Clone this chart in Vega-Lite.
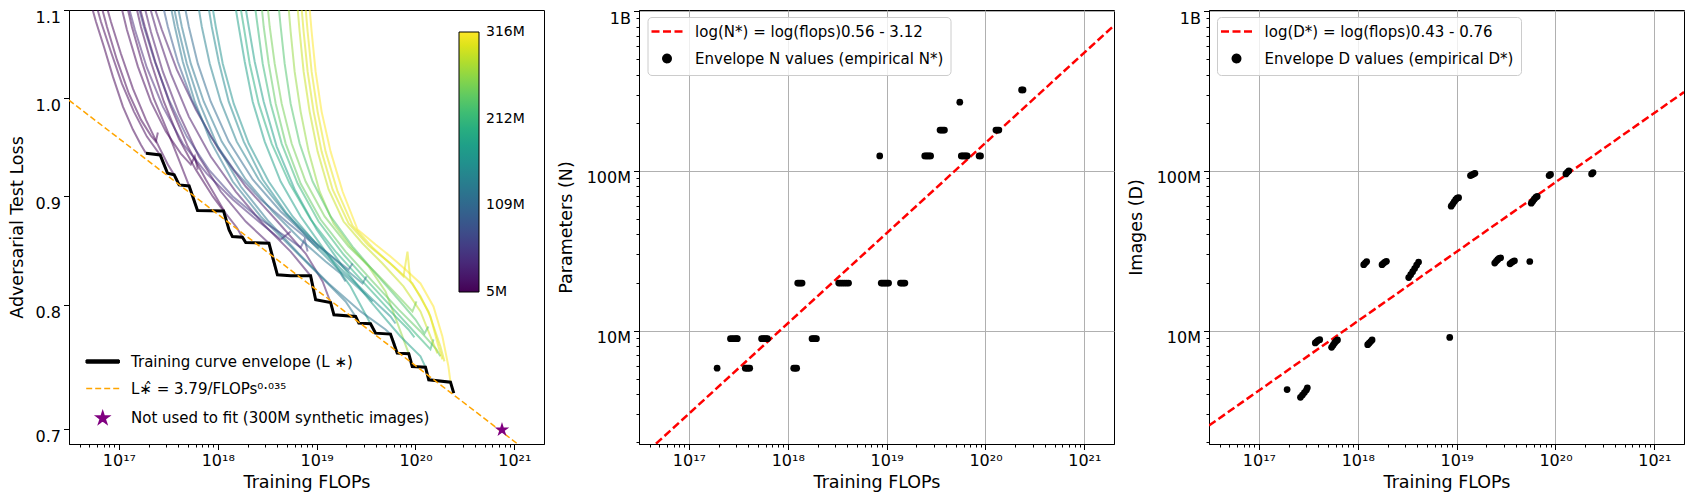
{
"$schema": "https://vega.github.io/schema/vega-lite/v6.json",
"background": "white",
"padding": {"left": 8, "top": 8, "right": 5, "bottom": 5},
"config": {
  "font": "DejaVu Sans",
  "view": {"stroke": "black", "strokeWidth": 1},
  "axis": {"labelFontSize": 16, "titleFontSize": 17.5, "titleFontWeight": "normal", "domainColor": "black", "tickColor": "black", "labelColor": "black", "titleColor": "black", "labelFlush": false, "labelOverlap": false, "labelPadding": 3, "tickWidth": 1, "domainWidth": 1},
  "legend": {"labelColor": "black", "labelFont": "DejaVu Sans"}
},
"datasets": {
  "curves": [
    {"run":1,"N":6,"flops":4.98e16,"loss":1.1158},{"run":1,"N":6,"flops":5.86e16,"loss":1.0862},{"run":1,"N":6,"flops":7.05e16,"loss":1.0573},{"run":1,"N":6,"flops":8.69e16,"loss":1.0237},{"run":1,"N":6,"flops":1.0975e17,"loss":0.9911},{"run":1,"N":6,"flops":1.385e17,"loss":0.9669},{"run":1,"N":6,"flops":1.668e17,"loss":0.9513},{"run":1,"N":6,"flops":1.875e17,"loss":0.9425},
    {"run":2,"N":9,"flops":5.59e16,"loss":1.1158},{"run":2,"N":9,"flops":6.58e16,"loss":1.0862},{"run":2,"N":9,"flops":8.3e16,"loss":1.0516},{"run":2,"N":9,"flops":1.0723e17,"loss":1.016},{"run":2,"N":9,"flops":1.418e17,"loss":0.9858},{"run":2,"N":9,"flops":1.918e17,"loss":0.9596},{"run":2,"N":9,"flops":2.612e17,"loss":0.9408},{"run":2,"N":9,"flops":2.848e17,"loss":0.9321},{"run":2,"N":9,"flops":3.105e17,"loss":0.9224},
    {"run":3,"N":6,"flops":7.05e16,"loss":1.1158},{"run":3,"N":6,"flops":8.3e16,"loss":1.0862},{"run":3,"N":6,"flops":1.0476e17,"loss":1.0493},{"run":3,"N":6,"flops":1.385e17,"loss":1.0105},{"run":3,"N":6,"flops":1.873e17,"loss":0.9773},{"run":3,"N":6,"flops":2.535e17,"loss":0.9493},{"run":3,"N":6,"flops":3.125e17,"loss":0.9311},{"run":3,"N":6,"flops":3.622e17,"loss":0.9208},{"run":3,"N":6,"flops":3.853e17,"loss":0.9162},{"run":3,"N":6,"flops":4.064e17,"loss":0.9109},
    {"run":4,"N":9,"flops":1.1498e17,"loss":1.1158},{"run":4,"N":9,"flops":1.353e17,"loss":1.0803},{"run":4,"N":9,"flops":1.707e17,"loss":1.0403},{"run":4,"N":9,"flops":2.257e17,"loss":0.9996},{"run":4,"N":9,"flops":3.053e17,"loss":0.9669},{"run":4,"N":9,"flops":4.037e17,"loss":0.9361},{"run":4,"N":9,"flops":5.129e17,"loss":0.9099},{"run":4,"N":9,"flops":5.59e17,"loss":0.8996},{"run":4,"N":9,"flops":6.237e17,"loss":0.886},
    {"run":5,"N":6,"flops":1.418e17,"loss":1.1158},{"run":5,"N":6,"flops":1.668e17,"loss":1.0803},{"run":5,"N":6,"flops":2.105e17,"loss":1.0403},{"run":5,"N":6,"flops":2.848e17,"loss":0.9964},{"run":5,"N":6,"flops":4.037e17,"loss":0.9575},{"run":5,"N":6,"flops":5.995e17,"loss":0.926},{"run":5,"N":6,"flops":8.9e17,"loss":0.8996},{"run":5,"N":6,"flops":1.143e18,"loss":0.8857},{"run":5,"N":6,"flops":1.3e18,"loss":0.8678},{"run":5,"N":6,"flops":1.406e18,"loss":0.8615},
    {"run":6,"N":9,"flops":1.52e17,"loss":1.1158},{"run":6,"N":9,"flops":1.83e17,"loss":1.0803},{"run":6,"N":9,"flops":2.364e17,"loss":1.0381},{"run":6,"N":9,"flops":3.351e17,"loss":0.9911},{"run":6,"N":9,"flops":4.977e17,"loss":0.9493},{"run":6,"N":9,"flops":7.563e17,"loss":0.9162},{"run":6,"N":9,"flops":1.204e18,"loss":0.8832},{"run":6,"N":9,"flops":1.555e18,"loss":0.87},{"run":6,"N":9,"flops":1.774e18,"loss":0.8609},{"run":6,"N":9,"flops":1.919e18,"loss":0.856},
    {"run":7,"N":20,"flops":1.707e17,"loss":1.1158},{"run":7,"N":20,"flops":2.105e17,"loss":1.0745},{"run":7,"N":20,"flops":2.782e17,"loss":1.0292},{"run":7,"N":20,"flops":4.037e17,"loss":0.9837},{"run":7,"N":20,"flops":6.427e17,"loss":0.9392},{"run":7,"N":20,"flops":1.072e18,"loss":0.9044},{"run":7,"N":20,"flops":1.918e18,"loss":0.8756},{"run":7,"N":20,"flops":3.296e18,"loss":0.8553},{"run":7,"N":20,"flops":3.593e18,"loss":0.8404},{"run":7,"N":20,"flops":4.009e18,"loss":0.8267},
    {"run":8,"N":20,"flops":1.918e17,"loss":1.1158},{"run":8,"N":20,"flops":2.42e17,"loss":1.0745},{"run":8,"N":20,"flops":3.351e17,"loss":1.027},{"run":8,"N":20,"flops":5.094e17,"loss":0.9805},{"run":8,"N":20,"flops":8.496e17,"loss":0.9392},{"run":8,"N":20,"flops":1.519e18,"loss":0.9044},{"run":8,"N":20,"flops":2.847e18,"loss":0.8737},{"run":8,"N":20,"flops":5.46e18,"loss":0.8477},{"run":8,"N":20,"flops":8.69e18,"loss":0.8258},{"run":8,"N":20,"flops":9.772e18,"loss":0.8048},
    {"run":9,"N":20,"flops":2.105e17,"loss":1.1158},{"run":9,"N":20,"flops":2.718e17,"loss":1.0768},{"run":9,"N":20,"flops":3.853e17,"loss":1.0314},{"run":9,"N":20,"flops":5.995e17,"loss":0.9879},{"run":9,"N":20,"flops":1.023e18,"loss":0.9462},{"run":9,"N":20,"flops":1.918e18,"loss":0.9093},{"run":9,"N":20,"flops":3.853e18,"loss":0.8775},{"run":9,"N":20,"flops":7.74e18,"loss":0.8459},{"run":9,"N":20,"flops":1.149e19,"loss":0.8208},{"run":9,"N":20,"flops":1.384e19,"loss":0.8024},{"run":9,"N":20,"flops":1.496e19,"loss":0.7918},
    {"run":10,"N":125,"flops":3.199e17,"loss":1.1158},{"run":10,"N":125,"flops":3.678e17,"loss":1.0803},{"run":10,"N":125,"flops":4.431e17,"loss":1.0403},{"run":10,"N":125,"flops":5.857e17,"loss":0.9964},{"run":10,"N":125,"flops":8.496e17,"loss":0.9544},{"run":10,"N":125,"flops":1.417e18,"loss":0.9142},{"run":10,"N":125,"flops":2.717e18,"loss":0.8804},{"run":10,"N":125,"flops":5.46e18,"loss":0.8523},{"run":10,"N":125,"flops":1.097e19,"loss":0.8253},{"run":10,"N":125,"flops":1.962e19,"loss":0.8033},{"run":10,"N":125,"flops":2.477e19,"loss":0.7904},{"run":10,"N":125,"flops":2.673e19,"loss":0.7847},
    {"run":11,"N":180,"flops":1.45e18,"loss":1.1158},{"run":11,"N":180,"flops":1.63e18,"loss":1.0803},{"run":11,"N":180,"flops":1.874e18,"loss":1.0403},{"run":11,"N":180,"flops":2.256e18,"loss":0.9964},{"run":11,"N":180,"flops":2.983e18,"loss":0.9544},{"run":11,"N":180,"flops":4.328e18,"loss":0.9142},{"run":11,"N":180,"flops":6.89e18,"loss":0.8804},{"run":11,"N":180,"flops":1.232e19,"loss":0.8477},{"run":11,"N":180,"flops":2.204e19,"loss":0.8164},{"run":11,"N":180,"flops":3.508e19,"loss":0.7842},{"run":11,"N":180,"flops":3.945e19,"loss":0.7763},
    {"run":12,"N":125,"flops":3.43e17,"loss":1.1158},{"run":12,"N":125,"flops":3.944e17,"loss":1.0803},{"run":12,"N":125,"flops":4.863e17,"loss":1.0381},{"run":12,"N":125,"flops":6.578e17,"loss":0.9943},{"run":12,"N":125,"flops":9.998e17,"loss":0.9493},{"run":12,"N":125,"flops":1.708e18,"loss":0.9093},{"run":12,"N":125,"flops":3.274e18,"loss":0.8756},{"run":12,"N":125,"flops":6.577e18,"loss":0.8459},{"run":12,"N":125,"flops":1.321e19,"loss":0.819},{"run":12,"N":125,"flops":2.781e19,"loss":0.7947},{"run":12,"N":125,"flops":4.974e19,"loss":0.7794},{"run":12,"N":125,"flops":5.585e19,"loss":0.7755},{"run":12,"N":125,"flops":6.133e19,"loss":0.7677},{"run":12,"N":125,"flops":6.531e19,"loss":0.7597},
    {"run":13,"N":266,"flops":5.093e18,"loss":1.1158},{"run":13,"N":266,"flops":5.46e18,"loss":1.0745},{"run":13,"N":266,"flops":5.993e18,"loss":1.0292},{"run":13,"N":266,"flops":6.89e18,"loss":0.9858},{"run":13,"N":266,"flops":8.3e18,"loss":0.9442},{"run":13,"N":266,"flops":1.0716e19,"loss":0.9044},{"run":13,"N":266,"flops":1.484e19,"loss":0.8737},{"run":13,"N":266,"flops":2.204e19,"loss":0.8523},{"run":13,"N":266,"flops":3.35e19,"loss":0.8342},{"run":13,"N":266,"flops":4.974e19,"loss":0.812},{"run":13,"N":266,"flops":7.05e19,"loss":0.7777},{"run":13,"N":266,"flops":8.551e19,"loss":0.7593},{"run":13,"N":266,"flops":9.268e19,"loss":0.7489},
    {"run":14,"N":180,"flops":1.831e18,"loss":1.1158},{"run":14,"N":180,"flops":2.056e18,"loss":1.0803},{"run":14,"N":180,"flops":2.364e18,"loss":1.0403},{"run":14,"N":180,"flops":2.914e18,"loss":0.9964},{"run":14,"N":180,"flops":3.944e18,"loss":0.9493},{"run":14,"N":180,"flops":5.993e18,"loss":0.9064},{"run":14,"N":180,"flops":9.997e18,"loss":0.8681},{"run":14,"N":180,"flops":1.83e19,"loss":0.8342},{"run":14,"N":180,"flops":3.509e19,"loss":0.8033},{"run":14,"N":180,"flops":7.05e19,"loss":0.7735},{"run":14,"N":180,"flops":1.123e20,"loss":0.7571},{"run":14,"N":180,"flops":1.262e20,"loss":0.7483},{"run":14,"N":180,"flops":1.361e20,"loss":0.7382},
    {"run":15,"N":316,"flops":8.3e18,"loss":1.1158},{"run":15,"N":316,"flops":8.9e18,"loss":1.0745},{"run":15,"N":316,"flops":9.767e18,"loss":1.0292},{"run":15,"N":316,"flops":1.123e19,"loss":0.9858},{"run":15,"N":316,"flops":1.384e19,"loss":0.9442},{"run":15,"N":316,"flops":1.83e19,"loss":0.9044},{"run":15,"N":316,"flops":2.594e19,"loss":0.8681},{"run":15,"N":316,"flops":3.942e19,"loss":0.8541},{"run":15,"N":316,"flops":5.588e19,"loss":0.8432},{"run":15,"N":316,"flops":7.92e19,"loss":0.8315},{"run":15,"N":316,"flops":1.123e20,"loss":0.819},{"run":15,"N":316,"flops":1.519e20,"loss":0.799},{"run":15,"N":316,"flops":1.872e20,"loss":0.7735},{"run":15,"N":316,"flops":2.153e20,"loss":0.749},{"run":15,"N":316,"flops":2.259e20,"loss":0.7363},{"run":15,"N":316,"flops":2.438e20,"loss":0.7277},
    {"run":16,"N":6,"flops":6.28e16,"loss":1.1158},{"run":16,"N":6,"flops":7.564e16,"loss":1.0803},{"run":16,"N":6,"flops":9.54e16,"loss":1.0426},{"run":16,"N":6,"flops":1.262e17,"loss":1.005},{"run":16,"N":6,"flops":1.668e17,"loss":0.9773},{"run":16,"N":6,"flops":2.105e17,"loss":0.9606},{"run":16,"N":6,"flops":2.364e17,"loss":0.9544},{"run":16,"N":6,"flops":2.477e17,"loss":0.9638},
    {"run":17,"N":9,"flops":1.0e17,"loss":1.1158},{"run":17,"N":9,"flops":1.2045e17,"loss":1.0768},{"run":17,"N":9,"flops":1.556e17,"loss":1.0348},{"run":17,"N":9,"flops":2.105e17,"loss":0.9964},{"run":17,"N":9,"flops":2.983e17,"loss":0.9648},{"run":17,"N":9,"flops":4.229e17,"loss":0.9422},{"run":17,"N":9,"flops":5.336e17,"loss":0.9311},{"run":17,"N":9,"flops":5.857e17,"loss":0.9392},{"run":17,"N":9,"flops":6.28e17,"loss":0.926},
    {"run":18,"N":60,"flops":1.485e17,"loss":1.1158},{"run":18,"N":60,"flops":1.788e17,"loss":1.0803},{"run":18,"N":60,"flops":2.31e17,"loss":1.0403},{"run":18,"N":60,"flops":3.199e17,"loss":0.9986},{"run":18,"N":60,"flops":4.863e17,"loss":0.9596},{"run":18,"N":60,"flops":8.11e17,"loss":0.926},{"run":18,"N":60,"flops":1.417e18,"loss":0.8996},{"run":18,"N":60,"flops":2.717e18,"loss":0.8775},{"run":18,"N":60,"flops":4.861e18,"loss":0.8616},{"run":18,"N":60,"flops":6.89e18,"loss":0.8514},{"run":18,"N":60,"flops":7.562e18,"loss":0.8588},{"run":18,"N":60,"flops":8.108e18,"loss":0.8477},
    {"run":19,"N":90,"flops":2.656e17,"loss":1.1158},{"run":19,"N":90,"flops":3.125e17,"loss":1.0803},{"run":19,"N":90,"flops":3.944e17,"loss":1.0403},{"run":19,"N":90,"flops":5.462e17,"loss":0.9986},{"run":19,"N":90,"flops":8.496e17,"loss":0.9596},{"run":19,"N":90,"flops":1.45e18,"loss":0.926},{"run":19,"N":90,"flops":2.717e18,"loss":0.8966},{"run":19,"N":90,"flops":5.212e18,"loss":0.8737},{"run":19,"N":90,"flops":8.695e18,"loss":0.8569},{"run":19,"N":90,"flops":1.047e19,"loss":0.8505},
    {"run":20,"N":125,"flops":3.765e17,"loss":1.1158},{"run":20,"N":125,"flops":4.329e17,"loss":1.0803},{"run":20,"N":125,"flops":5.336e17,"loss":1.0381},{"run":20,"N":125,"flops":7.22e17,"loss":0.9964},{"run":20,"N":125,"flops":1.097e18,"loss":0.9544},{"run":20,"N":125,"flops":1.918e18,"loss":0.9162},{"run":20,"N":125,"flops":3.593e18,"loss":0.8851},{"run":20,"N":125,"flops":6.89e18,"loss":0.8588},{"run":20,"N":125,"flops":1.232e19,"loss":0.8386},{"run":20,"N":125,"flops":1.746e19,"loss":0.8279},{"run":20,"N":125,"flops":1.962e19,"loss":0.8208},
    {"run":21,"N":150,"flops":7.741e17,"loss":1.1158},{"run":21,"N":150,"flops":8.696e17,"loss":1.0803},{"run":21,"N":150,"flops":1.023e18,"loss":1.0403},{"run":21,"N":150,"flops":1.291e18,"loss":0.9964},{"run":21,"N":150,"flops":1.831e18,"loss":0.9544},{"run":21,"N":150,"flops":2.847e18,"loss":0.9162},{"run":21,"N":150,"flops":4.976e18,"loss":0.8832},{"run":21,"N":150,"flops":9.109e18,"loss":0.8551},{"run":21,"N":150,"flops":1.746e19,"loss":0.8297},{"run":21,"N":150,"flops":3.124e19,"loss":0.8094},{"run":21,"N":150,"flops":3.677e19,"loss":0.8033},
    {"run":22,"N":160,"flops":8.496e17,"loss":1.1158},{"run":22,"N":160,"flops":9.544e17,"loss":1.0803},{"run":22,"N":160,"flops":1.123e18,"loss":1.0381},{"run":22,"N":160,"flops":1.45e18,"loss":0.9943},{"run":22,"N":160,"flops":2.056e18,"loss":0.9524},{"run":22,"N":160,"flops":3.274e18,"loss":0.9142},{"run":22,"N":160,"flops":5.72e18,"loss":0.8804},{"run":22,"N":160,"flops":1.047e19,"loss":0.8523},{"run":22,"N":160,"flops":1.962e19,"loss":0.8279},{"run":22,"N":160,"flops":3.677e19,"loss":0.805},{"run":22,"N":160,"flops":5.588e19,"loss":0.7904},{"run":22,"N":160,"flops":6.277e19,"loss":0.7844},
    {"run":23,"N":200,"flops":1.63e18,"loss":1.1158},{"run":23,"N":200,"flops":1.831e18,"loss":1.0803},{"run":23,"N":200,"flops":2.104e18,"loss":1.0381},{"run":23,"N":200,"flops":2.594e18,"loss":0.9943},{"run":23,"N":200,"flops":3.511e18,"loss":0.9524},{"run":23,"N":200,"flops":5.334e18,"loss":0.9122},{"run":23,"N":200,"flops":8.695e18,"loss":0.8775},{"run":23,"N":200,"flops":1.555e19,"loss":0.8477},{"run":23,"N":200,"flops":2.914e19,"loss":0.8208},{"run":23,"N":200,"flops":5.334e19,"loss":0.7964},{"run":23,"N":200,"flops":8.49e19,"loss":0.7794},{"run":23,"N":200,"flops":9.762e19,"loss":0.7727},
    {"run":24,"N":212,"flops":2.31e18,"loss":1.1158},{"run":24,"N":212,"flops":2.535e18,"loss":1.0803},{"run":24,"N":212,"flops":2.847e18,"loss":1.0381},{"run":24,"N":212,"flops":3.43e18,"loss":0.9943},{"run":24,"N":212,"flops":4.43e18,"loss":0.9524},{"run":24,"N":212,"flops":6.425e18,"loss":0.9122},{"run":24,"N":212,"flops":1.047e19,"loss":0.8756},{"run":24,"N":212,"flops":1.873e19,"loss":0.845},{"run":24,"N":212,"flops":3.509e19,"loss":0.8182},{"run":24,"N":212,"flops":6.277e19,"loss":0.7947},{"run":24,"N":212,"flops":1.072e20,"loss":0.7735},{"run":24,"N":212,"flops":1.416e20,"loss":0.7628},{"run":24,"N":212,"flops":1.519e20,"loss":0.7711},
    {"run":25,"N":240,"flops":2.717e18,"loss":1.1158},{"run":25,"N":240,"flops":2.914e18,"loss":1.0803},{"run":25,"N":240,"flops":3.274e18,"loss":1.0381},{"run":25,"N":240,"flops":3.853e18,"loss":0.9943},{"run":25,"N":240,"flops":4.861e18,"loss":0.9524},{"run":25,"N":240,"flops":6.89e18,"loss":0.9122},{"run":25,"N":240,"flops":1.097e19,"loss":0.8775},{"run":25,"N":240,"flops":1.962e19,"loss":0.8477},{"run":25,"N":240,"flops":3.677e19,"loss":0.8208},{"run":25,"N":240,"flops":6.73e19,"loss":0.7964},{"run":25,"N":240,"flops":1.123e20,"loss":0.7777},{"run":25,"N":240,"flops":1.628e20,"loss":0.7628},{"run":25,"N":240,"flops":1.787e20,"loss":0.7571},
    {"run":26,"N":290,"flops":6.278e18,"loss":1.1158},{"run":26,"N":290,"flops":6.732e18,"loss":1.0745},{"run":26,"N":290,"flops":7.388e18,"loss":1.0292},{"run":26,"N":290,"flops":8.495e18,"loss":0.9858},{"run":26,"N":290,"flops":1.023e19,"loss":0.9442},{"run":26,"N":290,"flops":1.321e19,"loss":0.9064},{"run":26,"N":290,"flops":1.873e19,"loss":0.8756},{"run":26,"N":290,"flops":2.914e19,"loss":0.8551},{"run":26,"N":290,"flops":4.639e19,"loss":0.8368},{"run":26,"N":290,"flops":7.56e19,"loss":0.8164},{"run":26,"N":290,"flops":1.123e20,"loss":0.7947},{"run":26,"N":290,"flops":1.484e20,"loss":0.7694},{"run":26,"N":290,"flops":1.667e20,"loss":0.7595},
    {"run":27,"N":300,"flops":6.89e18,"loss":1.1158},{"run":27,"N":300,"flops":7.388e18,"loss":1.0745},{"run":27,"N":300,"flops":8.108e18,"loss":1.0292},{"run":27,"N":300,"flops":9.323e18,"loss":0.9858},{"run":27,"N":300,"flops":1.123e19,"loss":0.9442},{"run":27,"N":300,"flops":1.45e19,"loss":0.9064},{"run":27,"N":300,"flops":2.104e19,"loss":0.8737},{"run":27,"N":300,"flops":3.35e19,"loss":0.8532},{"run":27,"N":300,"flops":5.588e19,"loss":0.8368},{"run":27,"N":300,"flops":9.318e19,"loss":0.819},{"run":27,"N":300,"flops":1.352e20,"loss":0.7947},{"run":27,"N":300,"flops":1.787e20,"loss":0.7652},{"run":27,"N":300,"flops":1.962e20,"loss":0.753},
    {"run":28,"N":305,"flops":7.562e18,"loss":1.1158},{"run":28,"N":305,"flops":8.108e18,"loss":1.0745},{"run":28,"N":305,"flops":8.9e18,"loss":1.0292},{"run":28,"N":305,"flops":1.023e19,"loss":0.9858},{"run":28,"N":305,"flops":1.232e19,"loss":0.9442},{"run":28,"N":305,"flops":1.629e19,"loss":0.9044},{"run":28,"N":305,"flops":2.309e19,"loss":0.8718},{"run":28,"N":305,"flops":3.677e19,"loss":0.8514},{"run":28,"N":305,"flops":6.133e19,"loss":0.8333},{"run":28,"N":305,"flops":7.56e19,"loss":0.8253},{"run":28,"N":305,"flops":8.297e19,"loss":0.8477},{"run":28,"N":305,"flops":8.894e19,"loss":0.8208},{"run":28,"N":305,"flops":1.123e20,"loss":0.8077},{"run":28,"N":305,"flops":1.416e20,"loss":0.7904},{"run":28,"N":305,"flops":1.706e20,"loss":0.7652},{"run":28,"N":305,"flops":1.872e20,"loss":0.7546},
    {"run":29,"N":230,"flops":4.036e18,"loss":1.1158},{"run":29,"N":230,"flops":4.328e18,"loss":1.0803},{"run":29,"N":230,"flops":4.75e18,"loss":1.0381},{"run":29,"N":230,"flops":5.46e18,"loss":0.9943},{"run":29,"N":230,"flops":6.732e18,"loss":0.9524},{"run":29,"N":230,"flops":9.109e18,"loss":0.9142},{"run":29,"N":230,"flops":1.384e19,"loss":0.8804},{"run":29,"N":230,"flops":2.309e19,"loss":0.8523},{"run":29,"N":230,"flops":3.942e19,"loss":0.8279},{"run":29,"N":230,"flops":6.73e19,"loss":0.805},{"run":29,"N":230,"flops":9.991e19,"loss":0.7878},{"run":29,"N":230,"flops":1.233e20,"loss":0.776},{"run":29,"N":230,"flops":1.352e20,"loss":0.7819},
    {"run":30,"N":110,"flops":4.431e17,"loss":1.1158},{"run":30,"N":110,"flops":5.094e17,"loss":1.0803},{"run":30,"N":110,"flops":6.28e17,"loss":1.0381},{"run":30,"N":110,"flops":8.496e17,"loss":0.9964},{"run":30,"N":110,"flops":1.291e18,"loss":0.9544},{"run":30,"N":110,"flops":2.256e18,"loss":0.9162},{"run":30,"N":110,"flops":4.328e18,"loss":0.8851},{"run":30,"N":110,"flops":8.695e18,"loss":0.8588},{"run":30,"N":110,"flops":1.555e19,"loss":0.8404},{"run":30,"N":110,"flops":2.104e19,"loss":0.8315},{"run":30,"N":110,"flops":2.309e19,"loss":0.8368},
    {"run":31,"N":40,"flops":1.1768e17,"loss":1.1158},{"run":31,"N":40,"flops":1.451e17,"loss":1.0768},{"run":31,"N":40,"flops":1.918e17,"loss":1.0336},{"run":31,"N":40,"flops":2.782e17,"loss":0.9911},{"run":31,"N":40,"flops":4.431e17,"loss":0.9524},{"run":31,"N":40,"flops":7.741e17,"loss":0.922},{"run":31,"N":40,"flops":1.417e18,"loss":0.8966},{"run":31,"N":40,"flops":2.594e18,"loss":0.8756},{"run":31,"N":40,"flops":4.328e18,"loss":0.8588},{"run":31,"N":40,"flops":5.46e18,"loss":0.8662},
    {"run":32,"N":140,"flops":6.136e17,"loss":1.1158},{"run":32,"N":140,"flops":6.892e17,"loss":1.0803},{"run":32,"N":140,"flops":8.3e17,"loss":1.0381},{"run":32,"N":140,"flops":1.072e18,"loss":0.9964},{"run":32,"N":140,"flops":1.555e18,"loss":0.9544},{"run":32,"N":140,"flops":2.594e18,"loss":0.9162},{"run":32,"N":140,"flops":4.861e18,"loss":0.8832},{"run":32,"N":140,"flops":9.543e18,"loss":0.8569},{"run":32,"N":140,"flops":1.83e19,"loss":0.8342},{"run":32,"N":140,"flops":2.914e19,"loss":0.819},{"run":32,"N":140,"flops":3.198e19,"loss":0.8253},
    {"run":33,"N":250,"flops":3.124e18,"loss":1.1158},{"run":33,"N":250,"flops":3.351e18,"loss":1.0803},{"run":33,"N":250,"flops":3.764e18,"loss":1.0381},{"run":33,"N":250,"flops":4.43e18,"loss":0.9943},{"run":33,"N":250,"flops":5.589e18,"loss":0.9524},{"run":33,"N":250,"flops":7.74e18,"loss":0.9142},{"run":33,"N":250,"flops":1.204e19,"loss":0.8804},{"run":33,"N":250,"flops":2.104e19,"loss":0.8523},{"run":33,"N":250,"flops":3.852e19,"loss":0.8297},{"run":33,"N":250,"flops":6.73e19,"loss":0.8077},{"run":33,"N":250,"flops":9.318e19,"loss":0.7947},{"run":33,"N":250,"flops":1.023e20,"loss":0.8033}
  ],
  "envelope": [
    {"flops":1.875e17,"loss":0.9425},{"flops":2.612e17,"loss":0.9408},{"flops":3.105e17,"loss":0.9224},{"flops":3.622e17,"loss":0.9208},{"flops":4.064e17,"loss":0.9109},{"flops":5.129e17,"loss":0.9099},{"flops":6.237e17,"loss":0.886},{"flops":1.143e18,"loss":0.8857},{"flops":1.3e18,"loss":0.8678},{"flops":1.406e18,"loss":0.8615},{"flops":1.774e18,"loss":0.8609},{"flops":1.919e18,"loss":0.856},{"flops":3.296e18,"loss":0.8553},{"flops":4.009e18,"loss":0.8267},{"flops":5.458e18,"loss":0.8258},{"flops":8.69e18,"loss":0.8258},{"flops":9.772e18,"loss":0.8048},{"flops":1.384e19,"loss":0.8024},{"flops":1.496e19,"loss":0.7918},{"flops":2.477e19,"loss":0.7904},{"flops":2.673e19,"loss":0.7847},{"flops":3.508e19,"loss":0.7842},{"flops":3.945e19,"loss":0.7763},{"flops":5.585e19,"loss":0.7755},{"flops":6.531e19,"loss":0.7597},{"flops":8.551e19,"loss":0.7593},{"flops":9.268e19,"loss":0.7489},{"flops":1.262e20,"loss":0.7483},{"flops":1.361e20,"loss":0.7382},{"flops":2.259e20,"loss":0.7363},{"flops":2.438e20,"loss":0.7277}
  ],
  "fitL": [{"flops":3.126e16,"loss":0.998},{"flops":1.995e21,"loss":0.674}],
  "star": [{"flops":7.5e20,"loss":0.7}],
  "fitN": [{"flops":3.126e16,"N":1.57e6},{"flops":1.995e21,"N":8.11e8}],
  "fitD": [{"flops":3.126e16,"D":2.55e6},{"flops":1.995e21,"D":3.11e8}],
  "scatter": [
    {"flops":1.928e17,"N":5.83e6,"D":4.28e6},
    {"flops":2.63e17,"N":8.91e6,"D":3.83e6},{"flops":2.754e17,"N":8.91e6,"D":3.96e6},{"flops":2.884e17,"N":8.91e6,"D":4.1e6},{"flops":3.02e17,"N":8.91e6,"D":4.25e6},{"flops":3.09e17,"N":8.91e6,"D":4.39e6},
    {"flops":3.715e17,"N":5.83e6,"D":8.38e6},{"flops":3.846e17,"N":5.83e6,"D":8.55e6},{"flops":3.981e17,"N":5.83e6,"D":8.7e6},{"flops":4.121e17,"N":5.83e6,"D":8.79e6},
    {"flops":5.433e17,"N":8.91e6,"D":7.87e6},{"flops":5.623e17,"N":8.91e6,"D":8.12e6},{"flops":5.821e17,"N":8.91e6,"D":8.38e6},{"flops":6.026e17,"N":8.91e6,"D":8.6e6},{"flops":6.237e17,"N":8.91e6,"D":8.75e6},
    {"flops":1.148e18,"N":5.83e6,"D":2.59e7},{"flops":1.189e18,"N":5.83e6,"D":2.65e7},{"flops":1.23e18,"N":5.83e6,"D":2.71e7},
    {"flops":1.259e18,"N":1.985e7,"D":8.18e6},{"flops":1.303e18,"N":1.985e7,"D":8.35e6},{"flops":1.349e18,"N":1.985e7,"D":8.55e6},{"flops":1.396e18,"N":1.985e7,"D":8.75e6},
    {"flops":1.758e18,"N":8.91e6,"D":2.59e7},{"flops":1.82e18,"N":8.91e6,"D":2.64e7},{"flops":1.884e18,"N":8.91e6,"D":2.69e7},{"flops":1.95e18,"N":8.91e6,"D":2.72e7},
    {"flops":3.273e18,"N":1.985e7,"D":2.15e7},{"flops":3.428e18,"N":1.985e7,"D":2.24e7},{"flops":3.589e18,"N":1.985e7,"D":2.34e7},{"flops":3.758e18,"N":1.985e7,"D":2.45e7},{"flops":3.936e18,"N":1.985e7,"D":2.57e7},{"flops":4.121e18,"N":1.985e7,"D":2.69e7},
    {"flops":8.511e18,"N":1.24e8,"D":9.08e6},
    {"flops":8.81e18,"N":1.985e7,"D":6.01e7},{"flops":9.12e18,"N":1.985e7,"D":6.2e7},{"flops":9.441e18,"N":1.985e7,"D":6.4e7},{"flops":9.772e18,"N":1.985e7,"D":6.6e7},{"flops":1.012e19,"N":1.985e7,"D":6.75e7},{"flops":1.047e19,"N":1.985e7,"D":6.8e7},
    {"flops":1.38e19,"N":1.985e7,"D":9.35e7},{"flops":1.429e19,"N":1.985e7,"D":9.45e7},{"flops":1.479e19,"N":1.985e7,"D":9.55e7},{"flops":1.531e19,"N":1.985e7,"D":9.66e7},
    {"flops":2.427e19,"N":1.24e8,"D":2.65e7},{"flops":2.512e19,"N":1.24e8,"D":2.72e7},{"flops":2.6e19,"N":1.24e8,"D":2.78e7},{"flops":2.692e19,"N":1.24e8,"D":2.84e7},{"flops":2.786e19,"N":1.24e8,"D":2.86e7},
    {"flops":3.467e19,"N":1.8e8,"D":2.62e7},{"flops":3.589e19,"N":1.8e8,"D":2.67e7},{"flops":3.715e19,"N":1.8e8,"D":2.71e7},{"flops":3.846e19,"N":1.8e8,"D":2.74e7},
    {"flops":5.495e19,"N":2.69e8,"D":2.71e7},
    {"flops":5.689e19,"N":1.24e8,"D":6.28e7},{"flops":5.888e19,"N":1.24e8,"D":6.45e7},{"flops":6.095e19,"N":1.24e8,"D":6.65e7},{"flops":6.31e19,"N":1.24e8,"D":6.82e7},{"flops":6.531e19,"N":1.24e8,"D":6.92e7},
    {"flops":8.61e19,"N":1.24e8,"D":9.35e7},{"flops":8.913e19,"N":1.24e8,"D":9.5e7},
    {"flops":1.274e20,"N":1.8e8,"D":9.57e7},{"flops":1.318e20,"N":1.8e8,"D":9.8e7},{"flops":1.365e20,"N":1.8e8,"D":1.0e8},
    {"flops":2.317e20,"N":3.21e8,"D":9.57e7},{"flops":2.399e20,"N":3.21e8,"D":9.77e7}
  ]
},
"hconcat": [
  {
    "width": 475, "height": 434,
    "encoding": {
      "x": {"field": "flops", "type": "quantitative", "scale": {"type": "log", "domain": [3.126e16, 1.995e21], "nice": false},
        "axis": {"title": "Training FLOPs", "grid": false, "titlePadding": 5,
          "values": [4e16,5e16,6e16,7e16,8e16,9e16,1e17,2e17,3e17,4e17,5e17,6e17,7e17,8e17,9e17,1e18,2e18,3e18,4e18,5e18,6e18,7e18,8e18,9e18,1e19,2e19,3e19,4e19,5e19,6e19,7e19,8e19,9e19,1e20,2e20,3e20,4e20,5e20,6e20,7e20,8e20,9e20,1e21],
          "labelExpr": "datum.value == 1e17 ? '10¹⁷' : datum.value == 1e18 ? '10¹⁸' : datum.value == 1e19 ? '10¹⁹' : datum.value == 1e20 ? '10²⁰' : datum.value == 1e21 ? '10²¹' : ''",
          "tickSize": {"condition": {"test": "datum.value == 1e17 || datum.value == 1e18 || datum.value == 1e19 || datum.value == 1e20 || datum.value == 1e21", "value": 5.5}, "value": 3}}},
      "y": {"field": "loss", "type": "quantitative", "scale": {"type": "log", "domain": [0.6888, 1.1], "nice": false, "zero": false},
        "axis": {"title": "Adversarial Test Loss", "values": [0.7, 0.8, 0.9, 1.0, 1.1], "format": ".1f", "grid": false, "tickSize": 5.5, "labelOffset": 7, "titlePadding": 8.5}}
    },
    "layer": [
      {
        "data": {"name": "curves"},
        "mark": {"type": "line", "strokeWidth": 2, "opacity": 0.52, "clip": true},
        "encoding": {
          "color": {"field": "N", "type": "quantitative", "scale": {"scheme": "viridis", "domain": [5, 316]},
            "legend": {"type": "gradient", "orient": "none", "legendX": 390, "legendY": 22, "direction": "vertical", "title": null, "padding": 0,
              "gradientLength": 260, "gradientThickness": 20, "gradientStrokeColor": "black", "gradientStrokeWidth": 1,
              "values": [5, 109, 212, 316], "labelExpr": "datum.value + 'M'", "labelFontSize": 14, "labelOffset": 7,
              "encoding": {"labels": {"baseline": {"value": "middle"}}, "gradient": {"opacity": {"value": 1}}}}},
          "detail": {"field": "run", "type": "nominal"}
        }
      },
      {
        "layer": [
          {
            "data": {"name": "envelope"},
            "mark": {"type": "line", "strokeWidth": 3, "clip": true},
            "encoding": {"color": {"datum": "Training curve envelope (L ∗)", "type": "nominal",
              "scale": {"domain": ["Training curve envelope (L ∗)", "L∗̂ = 3.79/FLOPs⁰·⁰³⁵", "Not used to fit (300M synthetic images)"], "range": ["black", "#ffa500", "purple"]},
              "legend": {"orient": "none", "legendX": 10, "legendY": 344, "title": null, "padding": 0, "labelFontSize": 15, "labelOffset": 20.8, "symbolOffset": 16.2, "symbolSize": 100, "symbolStrokeWidth": 1.5, "rowPadding": 11, "labelLimit": 0,
                "encoding": {"symbols": {
                  "shape": {"condition": [{"test": "datum.index === 0", "value": "M-3.3,-0.3H3.3V0.3H-3.3Z"}, {"test": "datum.index === 1", "value": "M-3.3,0H3.3"}], "value": "M0,-1.239L0.3076,-0.292L1.303,-0.292L0.4977,0.293L0.8053,1.239L0,0.654L-0.8053,1.239L-0.4977,0.293L-1.303,-0.292L-0.3076,-0.292Z"},
                  "fill": {"condition": [{"test": "datum.index === 0", "value": "black"}, {"test": "datum.index === 1", "value": "transparent"}], "value": "purple"},
                  "stroke": {"condition": [{"test": "datum.index === 1", "value": "#ffa500"}], "value": "transparent"},
                  "strokeDash": {"condition": [{"test": "datum.index === 1", "value": [6, 3]}], "value": [1, 0]},
                  "opacity": {"value": 1}}}}}}
          },
          {
            "data": {"name": "fitL"},
            "mark": {"type": "line", "strokeWidth": 1.5, "strokeDash": [6, 3], "clip": true},
            "encoding": {"color": {"datum": "L∗̂ = 3.79/FLOPs⁰·⁰³⁵", "type": "nominal",
              "scale": {"domain": ["Training curve envelope (L ∗)", "L∗̂ = 3.79/FLOPs⁰·⁰³⁵", "Not used to fit (300M synthetic images)"], "range": ["black", "#ffa500", "purple"]},
              "legend": {"orient": "none", "legendX": 10, "legendY": 344, "title": null, "padding": 0, "labelFontSize": 15, "labelOffset": 20.8, "symbolOffset": 16.2, "symbolSize": 100, "symbolStrokeWidth": 1.5, "rowPadding": 11, "labelLimit": 0,
                "encoding": {"symbols": {
                  "shape": {"condition": [{"test": "datum.index === 0", "value": "M-3.3,-0.3H3.3V0.3H-3.3Z"}, {"test": "datum.index === 1", "value": "M-3.3,0H3.3"}], "value": "M0,-1.239L0.3076,-0.292L1.303,-0.292L0.4977,0.293L0.8053,1.239L0,0.654L-0.8053,1.239L-0.4977,0.293L-1.303,-0.292L-0.3076,-0.292Z"},
                  "fill": {"condition": [{"test": "datum.index === 0", "value": "black"}, {"test": "datum.index === 1", "value": "transparent"}], "value": "purple"},
                  "stroke": {"condition": [{"test": "datum.index === 1", "value": "#ffa500"}], "value": "transparent"},
                  "strokeDash": {"condition": [{"test": "datum.index === 1", "value": [6, 3]}], "value": [1, 0]},
                  "opacity": {"value": 1}}}}}}
          },
          {
            "data": {"name": "star"},
            "mark": {"type": "point", "filled": true, "opacity": 1, "size": 235, "shape": "M0,-0.905L0.2245,-0.214L0.9511,-0.214L0.3633,0.214L0.5878,0.905L0,0.478L-0.5878,0.905L-0.3633,0.214L-0.9511,-0.214L-0.2245,-0.214Z"},
            "encoding": {"color": {"datum": "Not used to fit (300M synthetic images)", "type": "nominal",
              "scale": {"domain": ["Training curve envelope (L ∗)", "L∗̂ = 3.79/FLOPs⁰·⁰³⁵", "Not used to fit (300M synthetic images)"], "range": ["black", "#ffa500", "purple"]},
              "legend": {"orient": "none", "legendX": 10, "legendY": 344, "title": null, "padding": 0, "labelFontSize": 15, "labelOffset": 20.8, "symbolOffset": 16.2, "symbolSize": 100, "symbolStrokeWidth": 1.5, "rowPadding": 11, "labelLimit": 0,
                "encoding": {"symbols": {
                  "shape": {"condition": [{"test": "datum.index === 0", "value": "M-3.3,-0.3H3.3V0.3H-3.3Z"}, {"test": "datum.index === 1", "value": "M-3.3,0H3.3"}], "value": "M0,-1.239L0.3076,-0.292L1.303,-0.292L0.4977,0.293L0.8053,1.239L0,0.654L-0.8053,1.239L-0.4977,0.293L-1.303,-0.292L-0.3076,-0.292Z"},
                  "fill": {"condition": [{"test": "datum.index === 0", "value": "black"}, {"test": "datum.index === 1", "value": "transparent"}], "value": "purple"},
                  "stroke": {"condition": [{"test": "datum.index === 1", "value": "#ffa500"}], "value": "transparent"},
                  "strokeDash": {"condition": [{"test": "datum.index === 1", "value": [6, 3]}], "value": [1, 0]},
                  "opacity": {"value": 1}}}}}}
          }
        ]
      }
    ],
    "resolve": {"scale": {"color": "independent"}}
  },
  {
    "width": 475, "height": 434,
    "encoding": {
      "x": {"field": "flops", "type": "quantitative", "scale": {"type": "log", "domain": [3.126e16, 1.995e21], "nice": false},
        "axis": {"title": "Training FLOPs", "grid": true, "gridColor": "#b0b0b0", "titlePadding": 5,
          "gridOpacity": {"condition": {"test": "datum.value == 1e17 || datum.value == 1e18 || datum.value == 1e19 || datum.value == 1e20 || datum.value == 1e21", "value": 1}, "value": 0},
          "values": [4e16,5e16,6e16,7e16,8e16,9e16,1e17,2e17,3e17,4e17,5e17,6e17,7e17,8e17,9e17,1e18,2e18,3e18,4e18,5e18,6e18,7e18,8e18,9e18,1e19,2e19,3e19,4e19,5e19,6e19,7e19,8e19,9e19,1e20,2e20,3e20,4e20,5e20,6e20,7e20,8e20,9e20,1e21],
          "labelExpr": "datum.value == 1e17 ? '10¹⁷' : datum.value == 1e18 ? '10¹⁸' : datum.value == 1e19 ? '10¹⁹' : datum.value == 1e20 ? '10²⁰' : datum.value == 1e21 ? '10²¹' : ''",
          "tickSize": {"condition": {"test": "datum.value == 1e17 || datum.value == 1e18 || datum.value == 1e19 || datum.value == 1e20 || datum.value == 1e21", "value": 5.5}, "value": 3}}},
      "y": {"field": "N", "type": "quantitative", "scale": {"type": "log", "domain": [1.955e6, 1.015e9], "nice": false},
        "axis": {"title": "Parameters (N)", "grid": true, "gridColor": "#b0b0b0", "labelOffset": 7, "titlePadding": 10.5,
          "gridOpacity": {"condition": {"test": "datum.value == 1e7 || datum.value == 1e8 || datum.value == 1e9", "value": 1}, "value": 0},
          "values": [2e6,3e6,4e6,5e6,6e6,7e6,8e6,9e6,1e7,2e7,3e7,4e7,5e7,6e7,7e7,8e7,9e7,1e8,2e8,3e8,4e8,5e8,6e8,7e8,8e8,9e8,1e9],
          "labelExpr": "datum.value == 1e7 ? '10M' : datum.value == 1e8 ? '100M' : datum.value == 1e9 ? '1B' : ''",
          "tickSize": {"condition": {"test": "datum.value == 1e7 || datum.value == 1e8 || datum.value == 1e9", "value": 5.5}, "value": 3}}}
    },
    "layer": [
      {
        "data": {"name": "fitN"},
        "mark": {"type": "line", "strokeWidth": 2.5, "strokeDash": [8, 3.5], "clip": true},
        "encoding": {"color": {"datum": "log(N*) = log(flops)0.56 - 3.12", "type": "nominal",
          "scale": {"domain": ["log(N*) = log(flops)0.56 - 3.12", "Envelope N values (empirical N*)"], "range": ["red", "black"]},
          "legend": {"orient": "none", "legendX": 8.5, "legendY": 7, "title": null, "padding": 7, "fillColor": "rgba(255,255,255,0.8)", "strokeColor": "#cccccc", "cornerRadius": 4,
            "labelFontSize": 15, "labelOffset": 20.6, "symbolOffset": 5, "symbolSize": 100, "symbolStrokeWidth": 2.5, "rowPadding": 9, "labelLimit": 0,
            "encoding": {"symbols": {
              "shape": {"condition": {"test": "datum.index === 0", "value": "M-3.1,0H3.1"}, "value": "M0.74,0A0.74,0.74,0,1,1,-0.74,0A0.74,0.74,0,1,1,0.74,0Z"},
              "fill": {"condition": {"test": "datum.index === 0", "value": "transparent"}, "value": "black"},
              "stroke": {"condition": {"test": "datum.index === 0", "value": "red"}, "value": "transparent"},
              "strokeDash": {"condition": {"test": "datum.index === 0", "value": [8, 3.5]}, "value": [1, 0]},
              "opacity": {"value": 1}}}}}}
      },
      {
        "data": {"name": "scatter"},
        "mark": {"type": "circle", "size": 45, "opacity": 1},
        "encoding": {"color": {"datum": "Envelope N values (empirical N*)", "type": "nominal",
          "scale": {"domain": ["log(N*) = log(flops)0.56 - 3.12", "Envelope N values (empirical N*)"], "range": ["red", "black"]},
          "legend": {"orient": "none", "legendX": 8.5, "legendY": 7, "title": null, "padding": 7, "fillColor": "rgba(255,255,255,0.8)", "strokeColor": "#cccccc", "cornerRadius": 4,
            "labelFontSize": 15, "labelOffset": 20.6, "symbolOffset": 5, "symbolSize": 100, "symbolStrokeWidth": 2.5, "rowPadding": 9, "labelLimit": 0,
            "encoding": {"symbols": {
              "shape": {"condition": {"test": "datum.index === 0", "value": "M-3.1,0H3.1"}, "value": "M0.74,0A0.74,0.74,0,1,1,-0.74,0A0.74,0.74,0,1,1,0.74,0Z"},
              "fill": {"condition": {"test": "datum.index === 0", "value": "transparent"}, "value": "black"},
              "stroke": {"condition": {"test": "datum.index === 0", "value": "red"}, "value": "transparent"},
              "strokeDash": {"condition": {"test": "datum.index === 0", "value": [8, 3.5]}, "value": [1, 0]},
              "opacity": {"value": 1}}}}}}
      }
    ]
  },
  {
    "width": 475, "height": 434,
    "encoding": {
      "x": {"field": "flops", "type": "quantitative", "scale": {"type": "log", "domain": [3.126e16, 1.995e21], "nice": false},
        "axis": {"title": "Training FLOPs", "grid": true, "gridColor": "#b0b0b0", "titlePadding": 5,
          "gridOpacity": {"condition": {"test": "datum.value == 1e17 || datum.value == 1e18 || datum.value == 1e19 || datum.value == 1e20 || datum.value == 1e21", "value": 1}, "value": 0},
          "values": [4e16,5e16,6e16,7e16,8e16,9e16,1e17,2e17,3e17,4e17,5e17,6e17,7e17,8e17,9e17,1e18,2e18,3e18,4e18,5e18,6e18,7e18,8e18,9e18,1e19,2e19,3e19,4e19,5e19,6e19,7e19,8e19,9e19,1e20,2e20,3e20,4e20,5e20,6e20,7e20,8e20,9e20,1e21],
          "labelExpr": "datum.value == 1e17 ? '10¹⁷' : datum.value == 1e18 ? '10¹⁸' : datum.value == 1e19 ? '10¹⁹' : datum.value == 1e20 ? '10²⁰' : datum.value == 1e21 ? '10²¹' : ''",
          "tickSize": {"condition": {"test": "datum.value == 1e17 || datum.value == 1e18 || datum.value == 1e19 || datum.value == 1e20 || datum.value == 1e21", "value": 5.5}, "value": 3}}},
      "y": {"field": "D", "type": "quantitative", "scale": {"type": "log", "domain": [1.955e6, 1.015e9], "nice": false},
        "axis": {"title": "Images (D)", "grid": true, "gridColor": "#b0b0b0", "labelOffset": 7, "titlePadding": 10.5,
          "gridOpacity": {"condition": {"test": "datum.value == 1e7 || datum.value == 1e8 || datum.value == 1e9", "value": 1}, "value": 0},
          "values": [2e6,3e6,4e6,5e6,6e6,7e6,8e6,9e6,1e7,2e7,3e7,4e7,5e7,6e7,7e7,8e7,9e7,1e8,2e8,3e8,4e8,5e8,6e8,7e8,8e8,9e8,1e9],
          "labelExpr": "datum.value == 1e7 ? '10M' : datum.value == 1e8 ? '100M' : datum.value == 1e9 ? '1B' : ''",
          "tickSize": {"condition": {"test": "datum.value == 1e7 || datum.value == 1e8 || datum.value == 1e9", "value": 5.5}, "value": 3}}}
    },
    "layer": [
      {
        "data": {"name": "fitD"},
        "mark": {"type": "line", "strokeWidth": 2.5, "strokeDash": [8, 3.5], "clip": true},
        "encoding": {"color": {"datum": "log(D*) = log(flops)0.43 - 0.76", "type": "nominal",
          "scale": {"domain": ["log(D*) = log(flops)0.43 - 0.76", "Envelope D values (empirical D*)"], "range": ["red", "black"]},
          "legend": {"orient": "none", "legendX": 8, "legendY": 7, "title": null, "padding": 7, "fillColor": "rgba(255,255,255,0.8)", "strokeColor": "#cccccc", "cornerRadius": 4,
            "labelFontSize": 15, "labelOffset": 20.6, "symbolOffset": 5, "symbolSize": 100, "symbolStrokeWidth": 2.5, "rowPadding": 9, "labelLimit": 0,
            "encoding": {"symbols": {
              "shape": {"condition": {"test": "datum.index === 0", "value": "M-3.1,0H3.1"}, "value": "M0.74,0A0.74,0.74,0,1,1,-0.74,0A0.74,0.74,0,1,1,0.74,0Z"},
              "fill": {"condition": {"test": "datum.index === 0", "value": "transparent"}, "value": "black"},
              "stroke": {"condition": {"test": "datum.index === 0", "value": "red"}, "value": "transparent"},
              "strokeDash": {"condition": {"test": "datum.index === 0", "value": [8, 3.5]}, "value": [1, 0]},
              "opacity": {"value": 1}}}}}}
      },
      {
        "data": {"name": "scatter"},
        "mark": {"type": "circle", "size": 45, "opacity": 1},
        "encoding": {"color": {"datum": "Envelope D values (empirical D*)", "type": "nominal",
          "scale": {"domain": ["log(D*) = log(flops)0.43 - 0.76", "Envelope D values (empirical D*)"], "range": ["red", "black"]},
          "legend": {"orient": "none", "legendX": 8, "legendY": 7, "title": null, "padding": 7, "fillColor": "rgba(255,255,255,0.8)", "strokeColor": "#cccccc", "cornerRadius": 4,
            "labelFontSize": 15, "labelOffset": 20.6, "symbolOffset": 5, "symbolSize": 100, "symbolStrokeWidth": 2.5, "rowPadding": 9, "labelLimit": 0,
            "encoding": {"symbols": {
              "shape": {"condition": {"test": "datum.index === 0", "value": "M-3.1,0H3.1"}, "value": "M0.74,0A0.74,0.74,0,1,1,-0.74,0A0.74,0.74,0,1,1,0.74,0Z"},
              "fill": {"condition": {"test": "datum.index === 0", "value": "transparent"}, "value": "black"},
              "stroke": {"condition": {"test": "datum.index === 0", "value": "red"}, "value": "transparent"},
              "strokeDash": {"condition": {"test": "datum.index === 0", "value": [8, 3.5]}, "value": [1, 0]},
              "opacity": {"value": 1}}}}}}
      }
    ]
  }
],
"spacing": 95,
"bounds": "flush",
"resolve": {"scale": {"color": "independent"}}
}
